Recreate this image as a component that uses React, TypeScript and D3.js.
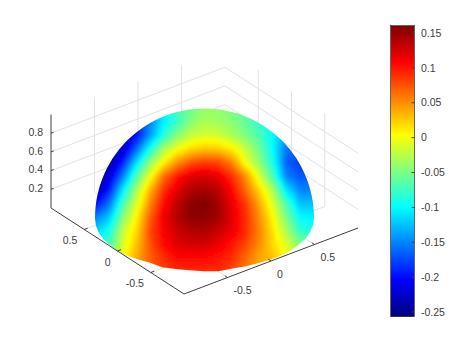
import React from "react";
import * as d3 from "d3";

const surfaceRows: number[][] = [
  [-.20,-.20,-.20,-.17,-.13,-.10,-.075,-.055,-.04,-.04,-.05,-.06,-.07,-.08,-.09,-.10,-.10],
  [-.23,-.23,-.22,-.19,-.15,-.105,-.075,-.045,-.03,-.035,-.045,-.06,-.08,-.10,-.12,-.13,-.13],
  [-.24,-.24,-.23,-.20,-.14,-.085,-.045,-.02,-.012,-.015,-.03,-.05,-.07,-.10,-.14,-.14,-.14],
  [-.25,-.25,-.225,-.16,-.09,-.03,.0,.02,.028,.025,.01,-.02,-.055,-.10,-.155,-.17,-.16],
  [-.25,-.24,-.19,-.11,-.04,.01,.05,.075,.085,.08,.055,.0,-.04,-.09,-.165,-.18,-.17],
  [-.25,-.22,-.15,-.065,.0,.065,.10,.12,.125,.115,.09,.05,-.01,-.07,-.15,-.17,-.165],
  [-.24,-.19,-.105,-.03,.035,.09,.12,.14,.145,.135,.105,.065,.02,-.03,-.11,-.15,-.15],
  [-.20,-.155,-.07,-.01,.055,.105,.135,.155,.16,.145,.115,.085,.04,-.01,-.07,-.125,-.125],
  [-.15,-.12,-.045,.01,.07,.115,.14,.155,.155,.145,.12,.09,.05,.005,-.05,-.10,-.105],
  [-.12,-.09,-.02,.02,.08,.11,.13,.14,.14,.13,.115,.09,.055,.015,-.03,-.08,-.09],
  [-.10,-.07,-.01,.03,.075,.105,.12,.125,.125,.115,.10,.08,.05,.02,-.01,-.045,-.07],
  [-.08,-.05,.0,.04,.07,.09,.105,.105,.105,.10,.09,.065,.04,.03,.005,-.04,-.06],
  [-.07,-.04,.01,.04,.07,.085,.09,.09,.09,.09,.08,.06,.04,.03,.01,-.03,-.05],
];
// height of the uneven lower rim, left to right round the front
const rimHeight = [0,0,0,0,.005,.005,.01,.02,.027,.01,.016,.016,.01,.005,.02,.02,.02,.016,.01,.005,.005,0,0,0,0];

const xTicks = [-0.5, 0, 0.5];
const yTicks = [-0.5, 0, 0.5];
const zTicks = [0.2, 0.4, 0.6, 0.8];
const barTicks = [0.15, 0.1, 0.05, 0, -0.05, -0.1, -0.15, -0.2, -0.25];
const jetStops = ["#000080", "#0000ff", "#00ffff", "#ffff00", "#ff0000", "#800000"];
const jetPositions = [0, 0.125, 0.375, 0.625, 0.875, 1];
const valueRange = [-0.256, 0.16];

const ink = "#404040";
const gridInk = "#e2e2e2";
const font = "'Liberation Sans', Arial, sans-serif";

const cx = 204.5, cy = 218, radius = 109.5;
const sx = d3.scaleLinear().domain([0, 1]).range([0, 87]);
const sy = d3.scaleLinear().domain([0, 1]).range([0, 66.5]);
const project = (x: number, y: number, z = 0): [number, number] => [
  cx + sx(x) - sy(y),
  cy - 33 * x - 43 * y - 93.5 * z,
];
const line = (a: [number, number], b: [number, number]) => `M${a[0]},${a[1]}L${b[0]},${b[1]}`;

const jet = d3.scaleLinear<string>().domain(jetPositions).range(jetStops).interpolate(d3.interpolateRgb);
const colorOf = (v: number) => jet((v - valueRange[0]) / (valueRange[1] - valueRange[0]));

const colScale = d3.scaleLinear().domain([96, 313.6]).range([0, surfaceRows[0].length - 1]).clamp(true);
const rowScale = d3.scaleLinear().domain([108, 272]).range([0, surfaceRows.length - 1]).clamp(true);
const lerp = (a: number, b: number, t: number) => a + (b - a) * t;
function sample(px: number, py: number) {
  const c = colScale(px), r = rowScale(py);
  const c0 = Math.min(Math.floor(c), surfaceRows[0].length - 2), r0 = Math.min(Math.floor(r), surfaceRows.length - 2);
  const fc = c - c0, fr = r - r0;
  return lerp(
    lerp(surfaceRows[r0][c0], surfaceRows[r0][c0 + 1], fc),
    lerp(surfaceRows[r0 + 1][c0], surfaceRows[r0 + 1][c0 + 1], fc),
    fr
  );
}

function outline() {
  const pts: [number, number][] = [];
  d3.range(0, 181, 3).forEach((a) => {
    const t = Math.PI - (a * Math.PI) / 180;
    pts.push([cx + radius * Math.cos(t), cy - radius * Math.sin(t)]);
  });
  const R = [0.795, -0.607], F = [-0.611, -0.792];
  rimHeight.forEach((h, i) => {
    const t = (i / (rimHeight.length - 1)) * Math.PI; // right to left below
    const c = Math.cos(t), s = Math.sin(t);
    pts.push(project(c * R[0] + s * F[0], c * R[1] + s * F[1], rimHeight[rimHeight.length - 1 - i] ?? h));
  });
  return d3.line().curve(d3.curveLinear)(pts) + "Z";
}

const barY = d3.scaleLinear().domain([0.15, -0.25]).range([33, 312]);

export default function App() {
  const grid: string[] = [];
  zTicks.forEach((z) => {
    grid.push(line(project(-1, 1, z), project(1, 1, z)));
    grid.push(line(project(1, 1, z), project(1, -1, z)));
  });
  xTicks.forEach((x) => {
    grid.push(line(project(x, 1, 0), project(x, 1, 1)));
    grid.push(line(project(x, -1, 0), project(x, 1, 0)));
  });
  yTicks.forEach((y) => {
    grid.push(line(project(1, y, 0), project(1, y, 1)));
    grid.push(line(project(-1, y, 0), project(1, y, 0)));
  });
  const cells: React.ReactElement[] = [];
  const step = 2;
  d3.range(90, 320, step).forEach((px) =>
    d3.range(102, 278, step).forEach((py) => {
      cells.push(<rect key={`${px}-${py}`} x={px} y={py} width={step} height={step} fill={colorOf(sample(px + 1, py + 1))} />);
    })
  );
  const barRows = d3.range(26, 317);
  return (
    <svg width={474} height={355} style={{ position: "fixed", left: 0, top: 0, background: "#fff" }} fontFamily={font} fontSize={10.5} fill={ink}>
      <defs>
        <clipPath id="dome"><path d={outline()} /></clipPath>
        <filter id="soft" x="-5%" y="-5%" width="110%" height="110%"><feGaussianBlur stdDeviation={1.6} /></filter>
      </defs>
      <path d={grid.join("")} stroke={gridInk} fill="none" strokeWidth={1} />
      <g clipPath="url(#dome)">
        <g filter="url(#soft)" shapeRendering="crispEdges">{cells}</g>
      </g>
      <path d={line(project(-1, 1, 1), project(-1, 1, 0)) + line(project(-1, 1, 0), project(-1, -1, 0)) + line(project(-1, -1, 0), project(1, -1, 0))} stroke={ink} fill="none" />
      {zTicks.map((z) => {
        const p = project(-1, 1, z), q = project(-0.97, 1, z);
        return (
          <g key={z}>
            <path d={line(p, q)} stroke={ink} />
            <text x={p[0] - 8} y={p[1] - 1} dy="0.35em" textAnchor="end">{z}</text>
          </g>
        );
      })}
      {xTicks.map((x) => {
        const p = project(x, -1, 0), q = project(x, -0.96, 0);
        return (
          <g key={x}>
            <path d={line(p, q)} stroke={ink} />
            <text x={p[0] + 6} y={p[1] + 13} dy="0.35em" textAnchor="start">{x}</text>
          </g>
        );
      })}
      {yTicks.map((y) => {
        const p = project(-1, y, 0), q = project(-0.96, y, 0);
        return (
          <g key={y}>
            <path d={line(p, q)} stroke={ink} />
            <text x={p[0] - 7} y={p[1] + 11} dy="0.35em" textAnchor="end">{y}</text>
          </g>
        );
      })}
      <g shapeRendering="crispEdges">
        {barRows.map((py) => (
          <rect key={py} x={391} y={py} width={23} height={1} fill={colorOf(barY.invert(py + 0.5))} />
        ))}
      </g>
      <rect x={390.5} y={25.5} width={24} height={291} fill="none" stroke={ink} strokeWidth={0.8} />
      {barTicks.map((t) => (
        <g key={t}>
          <path d={`M411.5,${barY(t)}H414.5`} stroke={ink} />
          <text x={421} y={barY(t)} dy="0.35em">{t}</text>
        </g>
      ))}
    </svg>
  );
}
